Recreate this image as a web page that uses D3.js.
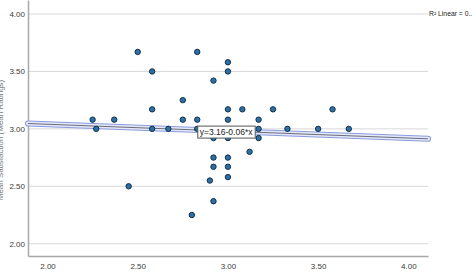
<!DOCTYPE html>
<html>
<head>
<meta charset="utf-8">
<script src="https://cdn.jsdelivr.net/npm/d3@7"></script>
<style>
  html, body { margin: 0; padding: 0; background: #fff; overflow: hidden; }
  svg { display: block; font-family: "Liberation Sans", "DejaVu Sans", sans-serif; }
</style>
</head>
<body>
<svg id="chart" width="474" height="274"></svg>
<script>
// scatter values
const xVals = [2.25, 2.27, 2.37, 2.45, 2.50, 2.58, 2.58, 2.58, 2.67, 2.75,
               2.75, 2.83, 2.83, 2.83, 2.80, 2.90, 2.92, 2.92, 2.92, 2.92,
               2.92, 3.00, 3.00, 3.00, 3.00, 3.00, 3.00, 3.00, 3.00, 3.08,
               3.12, 3.17, 3.17, 3.17, 3.25, 3.33, 3.50, 3.58, 3.67];
const yVals = [3.08, 3.00, 3.08, 2.50, 3.67, 3.50, 3.17, 3.00, 3.00, 3.25,
               3.08, 3.67, 3.08, 3.00, 2.25, 2.55, 3.42, 2.92, 2.75, 2.67,
               2.37, 3.58, 3.50, 3.17, 3.08, 2.92, 2.75, 2.67, 2.58, 3.17,
               2.80, 3.08, 3.00, 2.92, 3.17, 3.00, 3.00, 3.17, 3.00];
const xTicks = [2.0, 2.5, 3.0, 3.5, 4.0];
const yTicks = [2.0, 2.5, 3.0, 3.5, 4.0];
const fitIntercept = 3.16, fitSlope = -0.06;
const fitLabel = "y=3.16-0.06*x";
const r2Label = "R\u00b2 Linear = 0..";
const yTitle = "Mean Satisfaction (Mean Ratings)";

const svg = d3.select("#chart");

const plotL = 28, plotR = 428, plotT = 0, plotB = 256;

const x = d3.scaleLinear().domain([1.892, 4.109]).range([plotL, plotR]);
const y = d3.scaleLinear().domain([1.893, 4.122]).range([plotB, plotT]);

// gridlines
svg.append("g")
    .selectAll("line")
    .data(yTicks)
    .join("line")
    .attr("x1", plotL).attr("x2", plotR)
    .attr("y1", d => y(d)).attr("y2", d => y(d))
    .attr("stroke", "#d8d8d8")
    .attr("stroke-width", 1);

// axes
const xAxis = svg.append("g")
    .attr("transform", `translate(0,${plotB})`)
    .call(d3.axisBottom(x).tickValues(xTicks).tickFormat(d3.format(".2f")).tickSize(0).tickPadding(7));
const yAxis = svg.append("g")
    .attr("transform", `translate(${plotL},0)`)
    .call(d3.axisLeft(y).tickValues(yTicks).tickFormat(d3.format(".2f")).tickSize(0).tickPadding(3));

[xAxis, yAxis].forEach(a => {
    a.select(".domain").attr("stroke", "#a9a9a9").attr("stroke-width", 1.5);
    a.selectAll("text").attr("fill", "#3a3a3a").style("font-size", "8px")
        .style("font-family", "\"Liberation Sans\", sans-serif");
});

// y axis title, cut off at the left edge like the original
svg.append("text")
    .attr("transform", `translate(3,140) rotate(-90)`)
    .attr("text-anchor", "middle")
    .attr("fill", "#777")
    .style("font-size", "8px")
    .text(yTitle);

// fit line
const x0 = x.domain()[0], x1 = x.domain()[1];
const fitPts = [[x0, fitIntercept + fitSlope * x0], [x1, fitIntercept + fitSlope * x1]];
const line = d3.line().x(d => x(d[0])).y(d => y(d[1]));

svg.append("path").attr("d", line(fitPts))
    .attr("fill", "none").attr("stroke", "#8a9bdc").attr("stroke-width", 6)
    .attr("stroke-linecap", "round");
svg.append("path").attr("d", line(fitPts))
    .attr("fill", "none").attr("stroke", "#e4e9fa").attr("stroke-width", 4)
    .attr("stroke-linecap", "round");
svg.append("path").attr("d", line(fitPts))
    .attr("fill", "none").attr("stroke", "#6b6b7a").attr("stroke-width", 1);

// points
const pts = xVals.map((v, i) => ({ x: v, y: yVals[i] }));
svg.append("g")
    .selectAll("circle")
    .data(pts)
    .join("circle")
    .attr("cx", d => x(d.x))
    .attr("cy", d => y(d.y))
    .attr("r", 2.7)
    .attr("fill", "#2f6fa3")
    .attr("stroke", "#0d2f4d")
    .attr("stroke-width", 1);

// equation label box
const lx = x(2.99), ly = y(fitIntercept + fitSlope * 2.99) + 1;
const lab = svg.append("g").attr("transform", `translate(${lx},${ly})`);
const t = lab.append("text")
    .attr("text-anchor", "middle")
    .attr("dy", "0.35em")
    .attr("fill", "#222")
    .style("font-size", "8.5px")
    .text(fitLabel);
const bb = t.node().getBBox();
lab.insert("rect", "text")
    .attr("x", bb.x - 2).attr("y", -6)
    .attr("width", bb.width + 4).attr("height", 12)
    .attr("fill", "#fff")
    .attr("stroke", "#555").attr("stroke-width", 1);

// R2 legend
svg.append("text")
    .attr("x", 429).attr("y", 16)
    .attr("fill", "#222")
    .style("font-size", "6.8px")
    .text(r2Label);
</script>
</body>
</html>
